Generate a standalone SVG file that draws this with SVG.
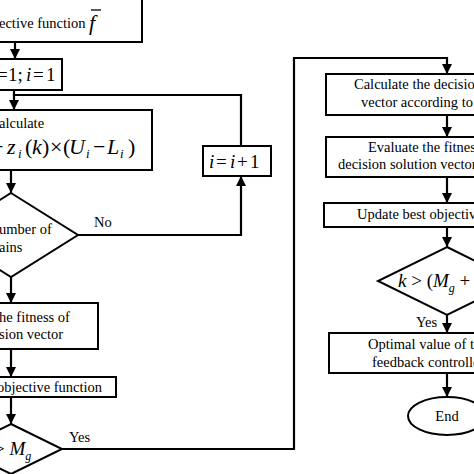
<svg xmlns="http://www.w3.org/2000/svg" width="474" height="474" viewBox="0 0 474 474">
<style>
.box{fill:#fff;stroke:#000;stroke-width:2}
.t{font-family:"Liberation Serif","Times New Roman",serif;font-size:14.5px;fill:#000}
.m{font-family:"Liberation Serif","Times New Roman",serif;font-size:19px;fill:#000}
.b{font-family:"Liberation Serif","Times New Roman",serif;font-size:22px;fill:#000}
.s{font-family:"Liberation Serif","Times New Roman",serif;font-size:13px;font-style:italic;fill:#000}
.mi{font-style:italic}
.c{fill:none;stroke:#000;stroke-width:2.2}
</style>
<defs>
<marker id="ah" markerUnits="userSpaceOnUse" markerWidth="10" markerHeight="10" viewBox="0 0 10 10" refX="10" refY="5" orient="auto">
<path d="M0,0 L10,5 L0,10 z" fill="#000"/>
</marker>
</defs>
<rect width="474" height="474" fill="#fff"/>
<g id="connectors">
<path class="c" d="M15,42 V59" marker-end="url(#ah)"/>
<path class="c" d="M14,90 V95"/>
<path class="c" d="M241,146 V95 H14 V110" marker-end="url(#ah)"/>
<path class="c" d="M11,170 V193" marker-end="url(#ah)"/>
<path class="c" d="M78,235 H241 V176" marker-end="url(#ah)"/>
<path class="c" d="M11,277 V303" marker-end="url(#ah)"/>
<path class="c" d="M11,349 V377" marker-end="url(#ah)"/>
<path class="c" d="M11,397 V424" marker-end="url(#ah)"/>
<path class="c" d="M62,449 H294 V58 H447 V74" marker-end="url(#ah)"/>
<path class="c" d="M447,115 V137" marker-end="url(#ah)"/>
<path class="c" d="M447,177 V203" marker-end="url(#ah)"/>
<path class="c" d="M447,227 V247" marker-end="url(#ah)"/>
<path class="c" d="M447,315 V333" marker-end="url(#ah)"/>
<path class="c" d="M447,373 V397" marker-end="url(#ah)"/>
<text class="t" x="94" y="227">No</text>
<text class="t" x="69" y="442">Yes</text>
<text class="t" x="416" y="327">Yes</text>
</g>
<g id="objective">
<rect class="box" x="-10" y="-10" width="152" height="52"/>
<text class="t" x="-1" y="28">ective function</text>
<text class="b mi" x="89" y="30">f</text>
<line x1="91" y1="10" x2="101" y2="10" stroke="#000" stroke-width="1.3"/>
</g>
<g id="init">
<rect class="box" x="-10" y="59" width="72" height="31"/>
<text class="m" x="-3" y="81">=</text>
<text class="m" x="8" y="81">1;</text>
<text class="m mi" x="26" y="81">i</text>
<text class="m" x="33" y="81">=</text>
<text class="m" x="46" y="81">1</text>
</g>
<g id="calc">
<rect class="box" x="-10" y="110" width="162" height="60"/>
<text class="t" x="-1" y="128">alculate</text>
<text class="b" x="-9" y="154">+</text>
<text class="b mi" x="7" y="154">z</text>
<text class="s" x="18" y="158">i</text>
<text class="b" x="25" y="154">(</text>
<text class="b mi" x="32" y="154">k</text>
<text class="b" x="42" y="154">)</text>
<text class="b" x="50" y="154">×</text>
<text class="b" x="63" y="154">(</text>
<text class="b mi" x="69" y="154">U</text>
<text class="s" x="86" y="158">i</text>
<text class="b" x="93" y="154">−</text>
<text class="b mi" x="107" y="154">L</text>
<text class="s" x="120" y="158">i</text>
<text class="b" x="128" y="154">)</text>
</g>
<g id="dec1">
<polygon class="box" points="11,193 78,235 11,277 -56,235"/>
<text class="t" x="-1" y="234">umber of</text>
<text class="t" x="-1" y="252">ains</text>
</g>
<g id="incr">
<rect class="box" x="203" y="146" width="68" height="30"/>
<text class="m mi" x="209" y="168">i</text>
<text class="m" x="216" y="168">=</text>
<text class="m mi" x="230" y="168">i</text>
<text class="m" x="237" y="168">+</text>
<text class="m" x="250" y="168">1</text>
</g>
<g id="fit1">
<rect class="box" x="-10" y="303" width="108" height="46"/>
<text class="t" x="-1" y="322">he fitness of</text>
<text class="t" x="-1" y="339">sion vector</text>
</g>
<g id="obj2">
<rect class="box" x="-10" y="377" width="126" height="20"/>
<text class="t" x="-3" y="392">objective function</text>
</g>
<g id="dec2">
<polygon class="box" points="11,424 62,449 11,474 -40,449"/>
<text class="m" x="-6" y="455">&gt; <tspan class="mi">M</tspan><tspan class="mi" font-size="12" dy="5">g</tspan></text>
</g>
<g id="r1">
<rect class="box" x="326" y="74" width="170" height="41"/>
<text class="t" x="354" y="89">Calculate the decision</text>
<text class="t" x="361" y="107">vector according to</text>
</g>
<g id="r2">
<rect class="box" x="326" y="137" width="170" height="40"/>
<text class="t" x="368" y="152">Evaluate the fitness</text>
<text class="t" x="338" y="169">decision solution vector</text>
</g>
<g id="r3">
<rect class="box" x="324" y="203" width="170" height="24"/>
<text class="t" x="357" y="219">Update best objective</text>
</g>
<g id="dec3">
<polygon class="box" points="447,247 516,281 447,315 378,281"/>
<text class="m" x="398" y="287"><tspan class="mi">k</tspan> &gt; (<tspan class="mi">M</tspan><tspan class="mi" font-size="12" dy="5">g</tspan><tspan dy="-5"> + </tspan><tspan class="mi">M</tspan></text>
</g>
<g id="r4">
<rect class="box" x="329" y="333" width="170" height="40"/>
<text class="t" x="368" y="349">Optimal value of the</text>
<text class="t" x="372" y="367">feedback controller</text>
</g>
<g id="end">
<ellipse class="box" cx="447" cy="416" rx="39" ry="19"/>
<text class="t" x="447" y="421" text-anchor="middle">End</text>
</g>
</svg>
